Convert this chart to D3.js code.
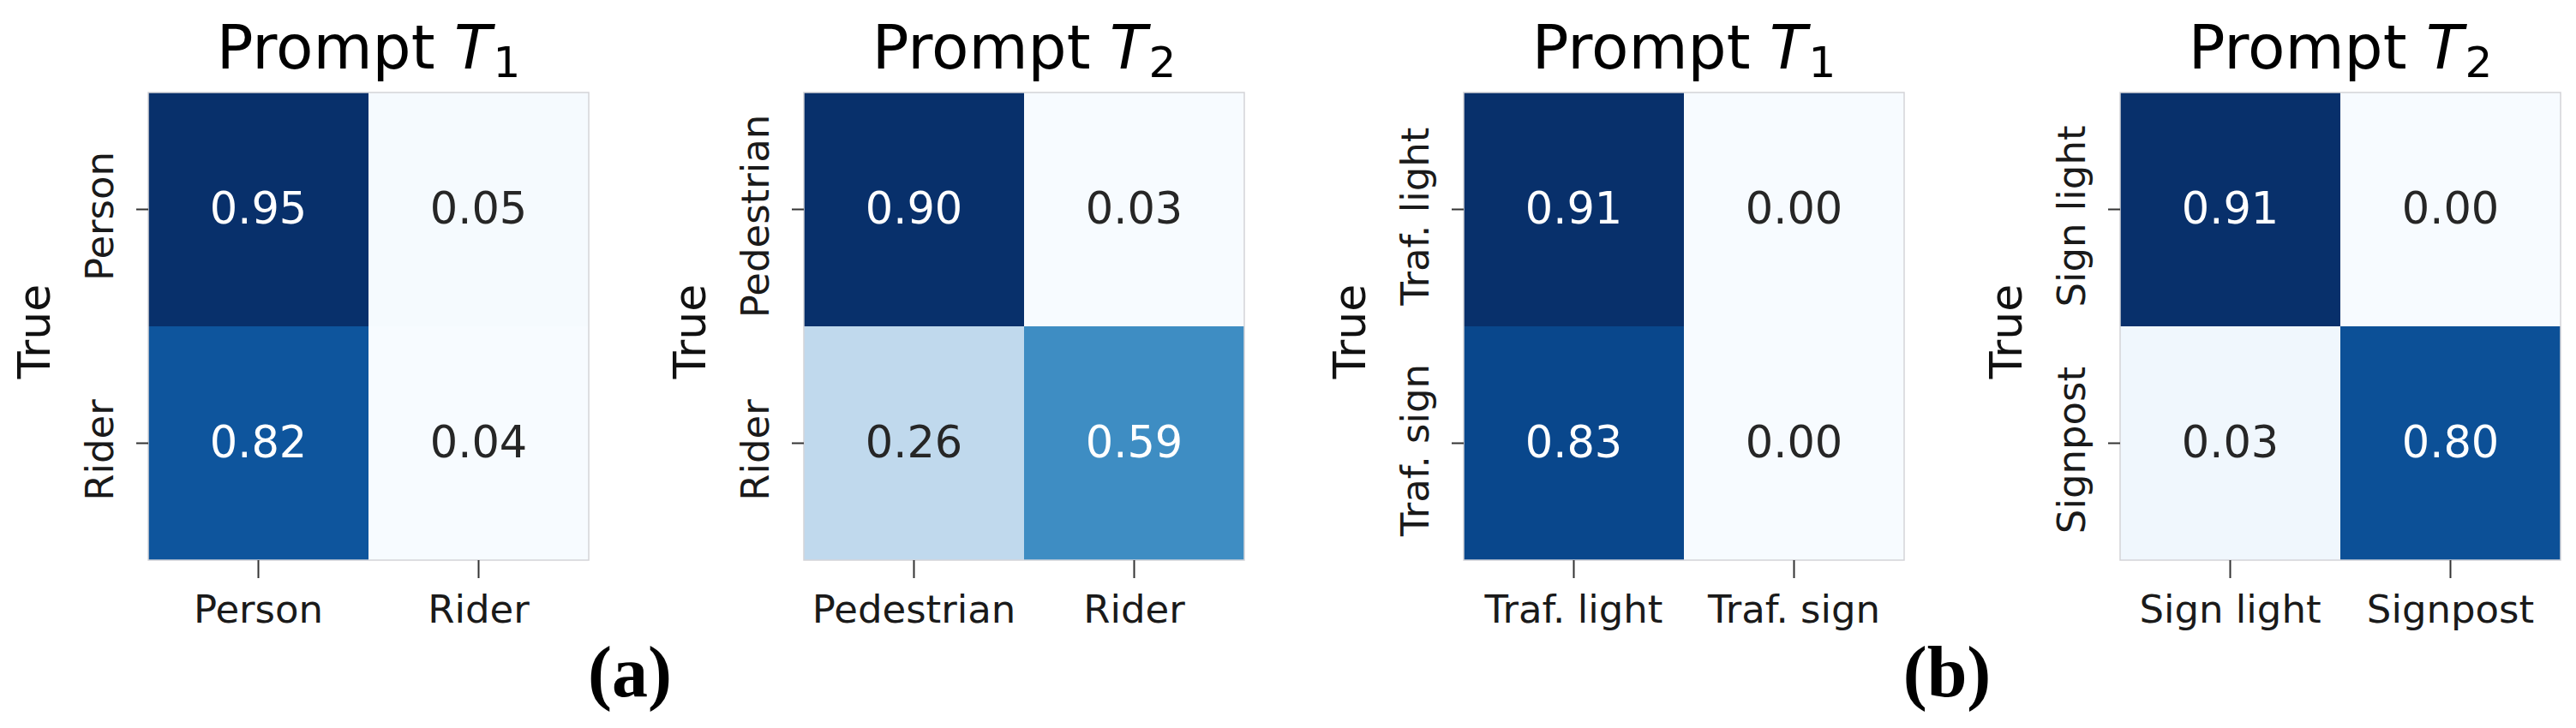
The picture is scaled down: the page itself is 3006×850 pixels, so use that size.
<!DOCTYPE html>
<html>
<head>
<meta charset="utf-8">
<script src="https://cdn.jsdelivr.net/npm/d3@7"></script>
<style>
  body { margin: 0; background: #fff; }
  svg { display: block; }
</style>
</head>
<body>
<svg id="chart"></svg>
<script>
// confusion matrices, rows = true class, columns = predicted class
var labelsA1 = ["Person", "Rider"];
var labelsA2 = ["Pedestrian", "Rider"];
var labelsB1 = ["Traf. light", "Traf. sign"];
var labelsB2 = ["Sign light", "Signpost"];

var valuesA1 = [[0.95, 0.05], [0.82, 0.04]];
var valuesA2 = [[0.90, 0.03], [0.26, 0.59]];
var valuesB1 = [[0.91, 0.00], [0.83, 0.00]];
var valuesB2 = [[0.91, 0.00], [0.03, 0.80]];

var promptIndex = ["1", "2", "1", "2"];
var subLabels = ["(a)", "(b)"];

var W = 3006, H = 850;
var font = "DejaVu Sans";

var svg = d3.select("#chart")
  .attr("width", W)
  .attr("height", H);

svg.append("rect").attr("width", W).attr("height", H).attr("fill", "#fff");

var panels = [
  { labels: labelsA1, values: valuesA1, left: 173 },
  { labels: labelsA2, values: valuesA2, left: 938 },
  { labels: labelsB1, values: valuesB1, left: 1708 },
  { labels: labelsB2, values: valuesB2, left: 2474 }
];

var boxTop = 108, boxW = 514, boxH = 546;

panels.forEach(function(p, pi) {
  var g = svg.append("g");

  var x = d3.scaleBand().domain(p.labels).range([p.left, p.left + boxW]);
  var y = d3.scaleBand().domain(p.labels).range([boxTop, boxTop + boxH]);

  var flat = d3.merge(p.values);
  var color = d3.scaleSequential(d3.interpolateBlues)
    .domain([d3.min(flat), d3.max(flat)]);

  var cells = [];
  p.values.forEach(function(row, i) {
    row.forEach(function(v, j) {
      cells.push({ r: p.labels[i], c: p.labels[j], v: v });
    });
  });

  g.selectAll("rect.cell")
    .data(cells)
    .enter()
    .append("rect")
    .attr("class", "cell")
    .attr("x", d => x(d.c))
    .attr("y", d => y(d.r))
    .attr("width", x.bandwidth())
    .attr("height", y.bandwidth())
    .attr("fill", d => color(d.v));

  // thin light frame round the matrix
  g.append("rect")
    .attr("x", p.left)
    .attr("y", boxTop)
    .attr("width", boxW)
    .attr("height", boxH)
    .attr("fill", "none")
    .attr("stroke", "#d4d4d8")
    .attr("stroke-width", 1.5);

  g.selectAll("text.annot")
    .data(cells)
    .enter()
    .append("text")
    .attr("class", "annot")
    .attr("x", d => x(d.c) + x.bandwidth() / 2)
    .attr("y", d => y(d.r) + y.bandwidth() / 2 + 16)
    .attr("text-anchor", "middle")
    .style("font-family", font)
    .style("font-size", "51px")
    .attr("fill", function(d) {
      var c = d3.rgb(color(d.v));
      var lum = (0.299 * c.r + 0.587 * c.g + 0.114 * c.b) / 255;
      return lum < 0.55 ? "#ffffff" : "#262626";
    })
    .text(d => d3.format(".2f")(d.v));

  // axes
  var xAxis = g.append("g")
    .attr("transform", "translate(0," + (boxTop + boxH) + ")")
    .call(d3.axisBottom(x).tickSize(21));
  xAxis.select(".domain").remove();
  xAxis.selectAll("line").attr("stroke", "#333").attr("stroke-width", 2);
  xAxis.selectAll("text")
    .attr("y", 73)
    .attr("dy", 0)
    .attr("fill", "#1a1a1a")
    .style("font-family", font)
    .style("font-size", "45px");

  var yAxis = g.append("g")
    .attr("transform", "translate(" + p.left + ",0)")
    .call(d3.axisLeft(y).tickSize(14));
  yAxis.select(".domain").remove();
  yAxis.selectAll("line").attr("stroke", "#333").attr("stroke-width", 2);
  yAxis.selectAll("text")
    .attr("transform", "rotate(-90)")
    .attr("x", -8)
    .attr("y", -41)
    .attr("dy", 0)
    .attr("text-anchor", "middle")
    .attr("fill", "#1a1a1a")
    .style("font-family", font)
    .style("font-size", "45px");

  // y label
  g.append("text")
    .attr("transform", "translate(" + (p.left - 115) + "," + (boxTop + boxH / 2 + 6) + ") rotate(-90)")
    .attr("text-anchor", "middle")
    .style("font-family", font)
    .style("font-size", "52px")
    .attr("fill", "#111")
    .text("True");

  // title: Prompt T_i
  var title = g.append("text")
    .attr("x", p.left + boxW / 2)
    .attr("y", 80)
    .attr("text-anchor", "middle")
    .style("font-family", font)
    .style("font-size", "71px")
    .attr("fill", "#000");
  title.append("tspan").text("Prompt ");
  title.append("tspan").style("font-style", "italic").text("T");
  title.append("tspan")
    .attr("dy", 10)
    .attr("dx", 2)
    .style("font-size", "50px")
    .text(promptIndex[pi]);
});

// sub-figure letters
var letterX = [735, 2272];
svg.selectAll("text.sub")
  .data(subLabels)
  .enter()
  .append("text")
  .attr("class", "sub")
  .attr("x", (d, i) => letterX[i])
  .attr("y", 813)
  .attr("text-anchor", "middle")
  .style("font-family", "Liberation Serif")
  .style("font-weight", "bold")
  .style("font-size", "84px")
  .attr("fill", "#000")
  .text(d => d);
</script>
</body>
</html>
